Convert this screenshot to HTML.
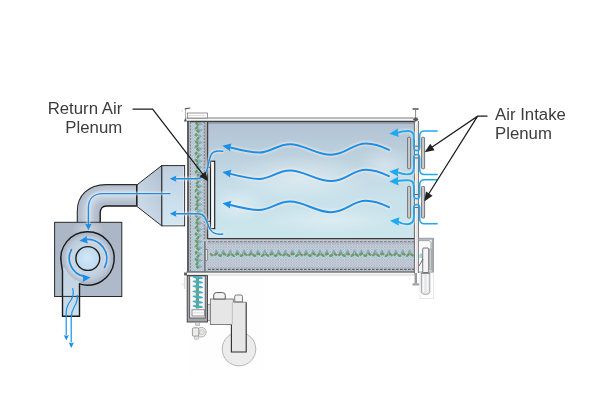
<!DOCTYPE html>
<html>
<head>
<meta charset="utf-8">
<title>Air Flow Diagram</title>
<style>
html,body{margin:0;padding:0;background:#fff;}
body{width:600px;height:420px;overflow:hidden;position:relative;font-family:"Liberation Sans",Arial,sans-serif;}
svg{position:absolute;left:0;top:0;display:block;}
.lbl{position:absolute;font-size:15.8px;line-height:19.3px;color:#3c3c3c;white-space:nowrap;transform:scaleX(1.062);will-change:transform;}
#l1{right:477.6px;top:99.3px;text-align:right;transform-origin:100% 0;}
#l2{left:495.4px;top:105.0px;text-align:left;transform-origin:0 0;}
</style>
</head>
<body>
<svg width="600" height="420" viewBox="0 0 600 420">
<defs>
  <linearGradient id="gCh" x1="0" y1="0" x2="0" y2="1">
    <stop offset="0" stop-color="#a9b8cb"/>
    <stop offset="0.03" stop-color="#b3c3d3"/>
    <stop offset="0.3" stop-color="#bcd1de"/>
    <stop offset="0.6" stop-color="#c7e0e9"/>
    <stop offset="1" stop-color="#cce6ee"/>
  </linearGradient>
  <radialGradient id="gCloud">
    <stop offset="0" stop-color="#ffffff" stop-opacity="0.75"/>
    <stop offset="1" stop-color="#ffffff" stop-opacity="0"/>
  </radialGradient>
  <linearGradient id="gBox" x1="0" y1="0" x2="0" y2="1">
    <stop offset="0" stop-color="#bfcfe0"/>
    <stop offset="0.5" stop-color="#c9dcea"/>
    <stop offset="1" stop-color="#d3e7f2"/>
  </linearGradient>
  <linearGradient id="gCone" x1="1" y1="0" x2="0.3" y2="1">
    <stop offset="0" stop-color="#b0bdce"/>
    <stop offset="0.5" stop-color="#c0cfde"/>
    <stop offset="1" stop-color="#d0dfea"/>
  </linearGradient>
  <linearGradient id="gPipe" x1="0" y1="0" x2="1" y2="1">
    <stop offset="0" stop-color="#b7c2d1"/>
    <stop offset="1" stop-color="#a9b4c5"/>
  </linearGradient>
  <linearGradient id="gBlow" x1="0" y1="0" x2="0" y2="1">
    <stop offset="0" stop-color="#aab5c6"/>
    <stop offset="1" stop-color="#aebaca"/>
  </linearGradient>
  <linearGradient id="gOut" x1="0" y1="0" x2="0" y2="1">
    <stop offset="0" stop-color="#c3d1e0"/>
    <stop offset="1" stop-color="#cddeeb"/>
  </linearGradient>
  <radialGradient id="gFan" cx="0.5" cy="0.5" r="0.5">
    <stop offset="0" stop-color="#cfe3f2"/>
    <stop offset="0.6" stop-color="#c6d4e2"/>
    <stop offset="0.88" stop-color="#bcc8d7"/>
    <stop offset="1" stop-color="#adb9ca"/>
  </radialGradient>
  <radialGradient id="gHub" cx="0.5" cy="0.5" r="0.5">
    <stop offset="0" stop-color="#d3e9f8"/>
    <stop offset="1" stop-color="#bdd8ee"/>
  </radialGradient>
  <pattern id="mesh" width="2.6" height="2.6" patternUnits="userSpaceOnUse">
    <rect width="2.6" height="2.6" fill="#cdd5df"/>
    <path d="M0 0L2.6 2.6M2.6 0L0 2.6" stroke="#aab4c2" stroke-width="0.7"/>
  </pattern>
  <filter id="glow" x="-10%" y="-60%" width="120%" height="220%">
    <feGaussianBlur stdDeviation="1"/>
  </filter>
  <filter id="fz" x="-5%" y="-5%" width="110%" height="110%">
    <feGaussianBlur stdDeviation="0.55"/>
  </filter>
  <filter id="soft2" x="-30%" y="-30%" width="160%" height="160%">
    <feGaussianBlur stdDeviation="2.6"/>
  </filter>
  <filter id="soft" x="-20%" y="-20%" width="140%" height="140%">
    <feGaussianBlur stdDeviation="1.5"/>
  </filter>
</defs>
<rect x="207" y="121" width="208" height="119.5" fill="url(#gCh)"/>
<ellipse cx="300" cy="178" rx="75" ry="24" fill="url(#gCloud)" opacity="0.55"/>
<ellipse cx="238" cy="205" rx="28" ry="18" fill="url(#gCloud)" opacity="0.5"/>
<ellipse cx="385" cy="165" rx="28" ry="20" fill="url(#gCloud)" opacity="0.45"/>
<ellipse cx="330" cy="220" rx="70" ry="14" fill="url(#gCloud)" opacity="0.45"/>
<rect x="188" y="121" width="19.5" height="151" fill="url(#mesh)"/>
<rect x="207" y="241" width="208" height="30.5" fill="url(#mesh)"/>
<g filter="url(#fz)" fill="none" stroke-linejoin="round">
<path d="M196.8 125.5L193.4 127.1L196.8 128.7M196.8 131.7L193.4 133.3L196.8 134.8M196.8 137.9L193.4 139.5L196.8 141.0M196.8 144.1L193.4 145.7L196.8 147.2M196.8 150.3L193.4 151.9L196.8 153.4M196.8 156.5L193.4 158.1L196.8 159.6M196.8 162.7L193.4 164.3L196.8 165.8M196.8 168.9L193.4 170.5L196.8 172.0M196.8 175.1L193.4 176.7L196.8 178.2M196.8 181.3L193.4 182.9L196.8 184.4M196.8 187.5L193.4 189.1L196.8 190.6M196.8 193.7L193.4 195.3L196.8 196.8M196.8 199.9L193.4 201.5L196.8 203.0M196.8 206.1L193.4 207.7L196.8 209.2M196.8 212.3L193.4 213.9L196.8 215.4M196.8 218.5L193.4 220.1L196.8 221.6M196.8 224.7L193.4 226.3L196.8 227.8M196.8 230.9L193.4 232.5L196.8 234.0M196.8 237.1L193.4 238.7L196.8 240.2M196.8 243.3L193.4 244.9L196.8 246.4M196.8 249.5L193.4 251.1L196.8 252.6M196.8 255.7L193.4 257.3L196.8 258.8M196.8 261.9L193.4 263.5L196.8 265.0M196.8 268.1L193.4 269.7L196.8 271.2" stroke="#a5d8e0" stroke-width="1.8" opacity="0.8"/>
<path d="M197.4 122.5L201.6 124.0L197.4 125.5M197.4 128.6L201.6 130.2L197.4 131.8M197.4 134.8L201.6 136.4L197.4 137.9M197.4 141.0L201.6 142.6L197.4 144.1M197.4 147.2L201.6 148.8L197.4 150.3M197.4 153.4L201.6 155.0L197.4 156.5M197.4 159.6L201.6 161.2L197.4 162.7M197.4 165.8L201.6 167.4L197.4 168.9M197.4 172.0L201.6 173.6L197.4 175.1M197.4 178.2L201.6 179.8L197.4 181.3M197.4 184.4L201.6 186.0L197.4 187.5M197.4 190.6L201.6 192.2L197.4 193.7M197.4 196.8L201.6 198.4L197.4 199.9M197.4 203.0L201.6 204.6L197.4 206.1M197.4 209.2L201.6 210.8L197.4 212.3M197.4 215.4L201.6 217.0L197.4 218.5M197.4 221.6L201.6 223.2L197.4 224.7M197.4 227.8L201.6 229.4L197.4 230.9M197.4 234.0L201.6 235.6L197.4 237.1M197.4 240.2L201.6 241.8L197.4 243.3M197.4 246.4L201.6 248.0L197.4 249.5M197.4 252.6L201.6 254.2L197.4 255.7M197.4 258.8L201.6 260.4L197.4 261.9M197.4 265.0L201.6 266.6L197.4 268.1" stroke="#62b1c2" stroke-width="1.5" opacity="0.8"/>
<path d="M195.8 122.5L198.4 125.6L195.8 128.7L198.4 131.8L195.8 134.9L198.4 138.0L195.8 141.1L198.4 144.2L195.8 147.3L198.4 150.4L195.8 153.5L198.4 156.6L195.8 159.7L198.4 162.8L195.8 165.9L198.4 169.0L195.8 172.1L198.4 175.2L195.8 178.3L198.4 181.4L195.8 184.5L198.4 187.6L195.8 190.7L198.4 193.8L195.8 196.9L198.4 200.0L195.8 203.1L198.4 206.2L195.8 209.3L198.4 212.4L195.8 215.5L198.4 218.6L195.8 221.7L198.4 224.8L195.8 227.9L198.4 231.0L195.8 234.1L198.4 237.2L195.8 240.3L198.4 243.4L195.8 246.5L198.4 249.6L195.8 252.7L198.4 255.8L195.8 258.9L198.4 262.0L195.8 265.1L198.4 268.2" stroke="#6f8f5a" stroke-width="2.3" stroke-dasharray="3.6 1.2" opacity="0.9"/>
<path d="M211.3 255.2L213.0 258.8L214.7 255.2M218.2 255.2L219.9 258.8L221.6 255.2M225.1 255.2L226.8 258.8L228.5 255.2M232.0 255.2L233.7 258.8L235.4 255.2M238.9 255.2L240.6 258.8L242.3 255.2M245.8 255.2L247.5 258.8L249.2 255.2M252.7 255.2L254.4 258.8L256.1 255.2M259.6 255.2L261.3 258.8L263.0 255.2M266.5 255.2L268.2 258.8L269.9 255.2M273.4 255.2L275.1 258.8L276.8 255.2M280.3 255.2L282.0 258.8L283.7 255.2M287.2 255.2L288.9 258.8L290.6 255.2M294.1 255.2L295.8 258.8L297.5 255.2M301.0 255.2L302.7 258.8L304.4 255.2M307.9 255.2L309.6 258.8L311.3 255.2M314.8 255.2L316.5 258.8L318.2 255.2M321.7 255.2L323.4 258.8L325.1 255.2M328.6 255.2L330.3 258.8L332.0 255.2M335.5 255.2L337.2 258.8L338.9 255.2M342.4 255.2L344.1 258.8L345.8 255.2M349.3 255.2L351.0 258.8L352.7 255.2M356.2 255.2L357.9 258.8L359.6 255.2M363.1 255.2L364.8 258.8L366.5 255.2M370.0 255.2L371.7 258.8L373.4 255.2M376.9 255.2L378.6 258.8L380.3 255.2M383.8 255.2L385.5 258.8L387.2 255.2M390.7 255.2L392.4 258.8L394.1 255.2M397.6 255.2L399.3 258.8L401.0 255.2M404.5 255.2L406.2 258.8L407.9 255.2M411.4 255.2L413.1 258.8L414.8 255.2" stroke="#a8dae2" stroke-width="1.8" opacity="0.8"/>
<path d="M214.7 254.6L216.4 250.4L218.2 254.6M221.6 254.6L223.3 250.4L225.1 254.6M228.5 254.6L230.2 250.4L232.0 254.6M235.4 254.6L237.2 250.4L238.9 254.6M242.3 254.6L244.1 250.4L245.8 254.6M249.2 254.6L251.0 250.4L252.7 254.6M256.1 254.6L257.9 250.4L259.6 254.6M263.0 254.6L264.8 250.4L266.5 254.6M269.9 254.6L271.6 250.4L273.4 254.6M276.8 254.6L278.5 250.4L280.3 254.6M283.7 254.6L285.4 250.4L287.2 254.6M290.6 254.6L292.3 250.4L294.1 254.6M297.5 254.6L299.2 250.4L301.0 254.6M304.4 254.6L306.1 250.4L307.9 254.6M311.3 254.6L313.0 250.4L314.8 254.6M318.2 254.6L319.9 250.4L321.7 254.6M325.1 254.6L326.8 250.4L328.6 254.6M332.0 254.6L333.7 250.4L335.5 254.6M338.9 254.6L340.6 250.4L342.4 254.6M345.8 254.6L347.5 250.4L349.3 254.6M352.7 254.6L354.4 250.4L356.2 254.6M359.6 254.6L361.3 250.4L363.1 254.6M366.5 254.6L368.2 250.4L370.0 254.6M373.4 254.6L375.1 250.4L376.9 254.6M380.3 254.6L382.0 250.4L383.8 254.6M387.2 254.6L388.9 250.4L390.7 254.6M394.1 254.6L395.8 250.4L397.6 254.6M401.0 254.6L402.7 250.4L404.5 254.6M407.9 254.6L409.6 250.4L411.4 254.6" stroke="#62aebe" stroke-width="1.5" opacity="0.8"/>
<path d="M210.0 253.6L213.4 256.0L216.9 253.6L220.3 256.0L223.8 253.6L227.2 256.0L230.7 253.6L234.1 256.0L237.6 253.6L241.0 256.0L244.5 253.6L247.9 256.0L251.4 253.6L254.8 256.0L258.3 253.6L261.7 256.0L265.2 253.6L268.6 256.0L272.1 253.6L275.5 256.0L279.0 253.6L282.4 256.0L285.9 253.6L289.3 256.0L292.8 253.6L296.2 256.0L299.7 253.6L303.1 256.0L306.6 253.6L310.0 256.0L313.5 253.6L316.9 256.0L320.4 253.6L323.8 256.0L327.3 253.6L330.7 256.0L334.2 253.6L337.6 256.0L341.1 253.6L344.5 256.0L348.0 253.6L351.4 256.0L354.9 253.6L358.3 256.0L361.8 253.6L365.2 256.0L368.7 253.6L372.1 256.0L375.6 253.6L379.0 256.0L382.5 253.6L385.9 256.0L389.4 253.6L392.8 256.0L396.3 253.6L399.7 256.0L403.2 253.6L406.6 256.0L410.1 253.6L413.5 256.0" stroke="#728f5c" stroke-width="2.2" stroke-dasharray="4 1.2" opacity="0.9"/>
</g>
<rect x="207.6" y="241.4" width="206.8" height="3" fill="#8f98a6" opacity="0.25"/>
<rect x="207.6" y="266.8" width="206.8" height="3.4" fill="#8f98a6" opacity="0.25"/>
<path d="M190.3 122V271M204.3 122V240" stroke="#4a4a4a" stroke-width="0.7" stroke-dasharray="2 1.2" fill="none"/>
<path d="M208 241.6H414M208 269.4H414" stroke="#4a4a4a" stroke-width="0.9" stroke-dasharray="2.6 1.4" fill="none"/>
<rect x="186.5" y="118" width="231.5" height="3.6" fill="#f7f7f8"/>
<path d="M186.5 118H418" stroke="#5a5a5a" stroke-width="0.8"/>
<path d="M187 121.5H418" stroke="#3c3c3c" stroke-width="1.3"/>
<path d="M208 122.9H414" stroke="#8d98a9" stroke-width="1.6"/>
<rect x="187" y="121.5" width="2.1" height="154" fill="#5d6066"/>
<rect x="189.1" y="121.5" width="1" height="150" fill="#b9bec6"/>
<rect x="204.8" y="122" width="2.6" height="117" fill="#a9aeb6"/>
<path d="M207.6 122V239" stroke="#3f3f3f" stroke-width="1.2"/>
<path d="M204.9 241V271.5" stroke="#4a4a4a" stroke-width="1"/>
<rect x="207.4" y="238.6" width="207" height="2.8" fill="#c3c8cf"/>
<path d="M207.2 238.6H414.6" stroke="#3a3a3a" stroke-width="1.1"/>
<rect x="186.5" y="271.8" width="228" height="3.2" fill="#f8f8f9" stroke="#b4b4b4" stroke-width="0.6"/>
<path d="M187 272H414.5" stroke="#3c3c3c" stroke-width="1.2"/>
<rect x="205.4" y="249.5" width="2.2" height="11" fill="#e0e3e8" stroke="#555" stroke-width="0.5"/>
<rect x="414.4" y="121" width="4" height="152" fill="#f6f6f7"/>
<path d="M414.4 121V273M418.4 121V273" stroke="#5a5a5a" stroke-width="0.9"/>
<path d="M416.3 124V270" stroke="#c9a9a0" stroke-width="0.5" opacity="0.6"/>
<path d="M414.8 146.2H418M414.8 158H418M414.8 194.6H418M414.8 207.4H418" stroke="#3a3a3a" stroke-width="0.8"/>
<rect x="187.3" y="113" width="20.2" height="5" fill="#fdfdfd" stroke="#6a6a6a" stroke-width="0.7"/>
<path d="M188 115.4H205" stroke="#c8c8c8" stroke-width="0.6"/>
<path d="M185.5 109V120" stroke="#999" stroke-width="0.8" fill="none"/>
<path d="M184.8 108.9L190.2 108" stroke="#555" stroke-width="1.1" fill="none"/>
<path d="M181.5 110.2L183 111.4" stroke="#aaa" stroke-width="0.6" fill="none"/>
<path d="M183.8 121.6L185.4 118L187 121.6Z" fill="#555"/>
<path d="M412.6 109H418.6" stroke="#333" stroke-width="1.3"/>
<path d="M415.6 109.5V118" stroke="#888" stroke-width="1"/>
<path d="M412.8 119.6L415.6 117.6L418.6 119.6L415.6 121.8Z" fill="#555"/>
<rect x="407.6" y="137.3" width="3" height="31.4" rx="0.8" fill="#c9ccd0" stroke="#5a5a5a" stroke-width="0.8"/>
<rect x="421.6" y="137.3" width="3" height="31.4" rx="0.8" fill="#c9ccd0" stroke="#5a5a5a" stroke-width="0.8"/>
<rect x="407.6" y="186.4" width="3" height="31.6" rx="0.8" fill="#c9ccd0" stroke="#5a5a5a" stroke-width="0.8"/>
<rect x="421.6" y="186.4" width="3" height="31.6" rx="0.8" fill="#c9ccd0" stroke="#5a5a5a" stroke-width="0.8"/>
<path d="M207.8 167.3H210.4M207.8 221.4H210.4" stroke="#2a2a2a" stroke-width="1"/>
<rect x="210.5" y="161.2" width="4.2" height="67.4" fill="#f2f5f8" stroke="#1f1f1f" stroke-width="1.15"/>
<rect x="420" y="272" width="13.4" height="26.6" fill="#fdfdfd" stroke="#d9d9d9" stroke-width="0.6"/>
<rect x="418.6" y="238.2" width="14.8" height="33.8" fill="#fafafa" stroke="#777" stroke-width="0.7"/>
<path d="M418.6 238.9H432.6V272" fill="none" stroke="#a3a8b0" stroke-width="1.7"/>
<path d="M419 240.6H429.5L431 242.5V271" fill="none" stroke="#666" stroke-width="0.6"/>
<ellipse cx="420.8" cy="255.8" rx="1.6" ry="2.6" fill="#7fcbd8" opacity="0.8"/>
<rect x="429" y="249" width="2.2" height="20.5" fill="#c9ccd1" stroke="#888" stroke-width="0.4"/>
<rect x="422.7" y="248" width="6" height="24.5" rx="1" fill="#f4f4f5" stroke="#555" stroke-width="0.8"/>
<path d="M419 266L423 259" stroke="#444" stroke-width="0.8"/>
<path d="M421.4 273.2H429.8V291.5Q429.8 294.4 425.6 294.4Q421.4 294.4 421.4 291.5Z" fill="#e6e7e9" stroke="#8a8a8a" stroke-width="0.7"/>
<path d="M423.6 275V292M427.4 275V292" stroke="#fbfbfb" stroke-width="1.1"/>
<path d="M421.4 273.2H429.8" stroke="#666" stroke-width="0.8"/>
<rect x="414.6" y="273" width="2.4" height="10.5" fill="#9a9a9a"/>
<rect x="412.3" y="283.2" width="7" height="2.4" rx="0.8" fill="#a5a5a5"/>
<rect x="161.7" y="165.6" width="22.9" height="60.2" fill="url(#gBox)" stroke="#2a2a2a" stroke-width="1"/>
<path d="M183.6 167V224.8H163" fill="none" stroke="#e4eef6" stroke-width="0.9" opacity="0.8"/>
<path d="M161.7 165.6L136.8 185V206.3L161.7 225.8Z" fill="url(#gCone)" stroke="#2a2a2a" stroke-width="1" stroke-linejoin="miter"/>
<clipPath id="cpPipe"><path d="M136.8 184.6H106C88 184.6 77.3 196 77.3 211V222.5H100.2V213C100.2 209 102.5 206 106.5 206H136.8Z"/></clipPath>
<path d="M136.8 184.6H106C88 184.6 77.3 196 77.3 211V222.5H100.2V213C100.2 209 102.5 206 106.5 206H136.8Z" fill="#b0bccb" stroke="none"/>
<g clip-path="url(#cpPipe)"><path d="M140 194.5H106C94 194.5 88.2 201 88.2 211V224" fill="none" stroke="#cbd7e3" stroke-width="10" filter="url(#soft2)"/></g>
<path d="M136.8 184.6H106C88 184.6 77.3 196 77.3 211V222.5" fill="none" stroke="#2a2a2a" stroke-width="1.1"/>
<path d="M136.8 206H106.5C102.5 206 100.2 209 100.2 213V222.5" fill="none" stroke="#1a1a1a" stroke-width="1.4"/>
<rect x="54.6" y="222.3" width="67.2" height="74.2" fill="url(#gBlow)" stroke="#2a2a2a" stroke-width="1"/>
<ellipse cx="88" cy="229" rx="17" ry="9" fill="url(#gCloud)" opacity="0.55"/>
<path d="M79.5 283.9A26.7 26.7 0 1 0 61.3 263.4Q61.9 267.5 62.5 271V296H79.5Z" fill="#adb9ca"/>
<rect x="62.5" y="268" width="17" height="48.2" fill="url(#gOut)"/>
<circle cx="87.6" cy="258.4" r="24.4" fill="url(#gFan)"/>
<path d="M79.5 283.9A26.7 26.7 0 1 0 61.3 263.4Q61.9 267.5 62.5 271V316.2H79.5Z" fill="none" stroke="#1a1a1a" stroke-width="1.4" stroke-linejoin="miter"/>
<path d="M62.5 296.4H79.5" stroke="#2a2a2a" stroke-width="1"/>
<circle cx="87.8" cy="258.5" r="11.9" fill="url(#gHub)" stroke="#1a1a1a" stroke-width="1.4"/>
<path d="M136.7 184.6V206" stroke="#1f1f1f" stroke-width="1.4"/>
<rect x="186.7" y="276" width="77.5" height="97.7" fill="#fefefe"/>
<circle cx="239" cy="349.1" r="16.8" fill="#ececec" stroke="#999" stroke-width="0.7"/>
<rect x="207.2" y="304.3" width="3.2" height="16.2" fill="#dcdcdc" stroke="#777" stroke-width="0.6"/>
<rect x="210.3" y="299" width="23" height="25.6" fill="#e6e6e6" stroke="#666" stroke-width="0.8"/>
<path d="M231.4 324.6V352H246.2V302.2H231.4Z" fill="#e6e6e6"/>
<path d="M231.4 324.6V352H246.2V302.2" fill="none" stroke="#2e2e2e" stroke-width="1.1"/>
<path d="M233.5 302.2H246.2" fill="none" stroke="#777" stroke-width="0.8"/>
<path d="M232.4 302.4V324.4" fill="none" stroke="#b0b0b0" stroke-width="0.7"/>
<path d="M213.7 299V295.2Q213.7 292.6 216.5 292.6H222.5Q225.3 292.6 225.3 295.2V299Z" fill="#f3f3f3" stroke="#4a4a4a" stroke-width="0.9"/>
<path d="M234.7 301.8V296.6Q234.7 295 236.3 295H240.9Q242.5 295 242.5 296.6V301.8Z" fill="#f3f3f3" stroke="#5a5a5a" stroke-width="0.8"/>
<rect x="187.2" y="275.6" width="20.3" height="46.4" fill="#a3a7ad" stroke="#3a3a3a" stroke-width="0.9"/>
<rect x="189.7" y="276" width="15.5" height="42" fill="#f6f6f7" stroke="#444" stroke-width="0.8"/>
<g filter="url(#fz)">
<path d="M197.4 276.5V308.5" stroke="#7d9f68" stroke-width="3.2" fill="none"/>
<ellipse cx="197.8" cy="277.5" rx="5.3" ry="1.25" transform="rotate(8 197.8 277.5)" fill="#3fb0cc"/>
<ellipse cx="197.8" cy="281.9" rx="5.3" ry="1.25" transform="rotate(8 197.8 281.9)" fill="#3fb0cc"/>
<ellipse cx="197.8" cy="286.8" rx="5.3" ry="1.25" transform="rotate(8 197.8 286.8)" fill="#3fb0cc"/>
<ellipse cx="197.8" cy="291.9" rx="5.3" ry="1.25" transform="rotate(8 197.8 291.9)" fill="#3fb0cc"/>
<ellipse cx="197.8" cy="297" rx="5.3" ry="1.25" transform="rotate(8 197.8 297)" fill="#3fb0cc"/>
<ellipse cx="197.8" cy="302" rx="5.3" ry="1.25" transform="rotate(8 197.8 302)" fill="#3fb0cc"/>
<ellipse cx="197.8" cy="306.6" rx="5.3" ry="1.25" transform="rotate(8 197.8 306.6)" fill="#3fb0cc"/>
</g>
<rect x="192" y="309.8" width="12.6" height="6.2" fill="#fbfbfb" stroke="#666" stroke-width="0.7"/>
<path d="M192.5 312.9H204" stroke="#c4c4c4" stroke-width="0.6"/>
<path d="M195.6 322.4h4v3h-4z" fill="#ddd" stroke="#888" stroke-width="0.5"/>
<circle cx="201.4" cy="332.2" r="4.8" fill="#efefef" stroke="#909090" stroke-width="0.7"/>
<circle cx="201.8" cy="332.2" r="2.6" fill="#e2e2e2" stroke="#b5b5b5" stroke-width="0.5"/>
<rect x="192.4" y="327.8" width="6.4" height="8.4" rx="1.2" fill="#ececec" stroke="#777" stroke-width="0.7"/>
<rect x="194.4" y="336.2" width="4.4" height="3" rx="1" fill="#e6e6e6" stroke="#888" stroke-width="0.5"/>
<path d="M184.8 277V289M182 283.5L183.4 285" stroke="#aaa" stroke-width="0.6" fill="none"/>
<rect x="184" y="272.5" width="3" height="3" fill="#666"/>
<g fill="none" stroke="#fbeee8" stroke-linecap="round" opacity="0.8" filter="url(#glow)">
<path d="M389 149.8 C381 146 374 143.4 366 143.4 C352 143.4 346 154.8 331 154.8 C316 154.8 304 144.2 290 144.2 C277 144.2 271 152.6 259 152.6 C249 152.6 238 149.5 229 147.2" stroke-width="3.8"/>
<path d="M389 176.1 C381 172.3 374 169.7 366 169.7 C352 169.7 346 181.1 331 181.1 C316 181.1 304 170.5 290 170.5 C277 170.5 271 178.9 259 178.9 C249 178.9 238 175.8 229 173.5" stroke-width="3.8"/>
<path d="M389 207.2 C381 203.4 374 200.8 366 200.8 C352 200.8 346 212.2 331 212.2 C316 212.2 304 201.6 290 201.6 C277 201.6 271 210.0 259 210.0 C249 210.0 238 206.9 229 204.6" stroke-width="3.8"/>
<path d="M222.7 151.3C217 150.4 213.6 151 211.6 154C208.6 158.5 208.6 166 206.2 172C204.2 177 200.5 178.7 196 178.7H176" stroke-width="3"/>
<path d="M222.7 234C216.5 235 212 233 209.6 228.5C206.5 222.5 206 213.7 198.5 213.7H176" stroke-width="3"/>
<path d="M397 133C401 131.4 404 131 408 131C411.6 131 413.8 133 413.8 137" stroke-width="3.6"/>
<path d="M413.8 168C413.8 172 411.5 174.4 407 174.4C403 174.4 400 173.4 397 172.2" stroke-width="3.6"/>
<path d="M397 181C400 180.4 404 180.2 408 180.2C411.6 180.2 413.8 182.4 413.8 186" stroke-width="3.6"/>
<path d="M413.8 217C413.8 221.6 411.5 224.2 407 224.2C403 224.2 400 223 397 221.4" stroke-width="3.6"/>
</g>
<path d="M170 193.6H103C93.5 193.6 88.4 199 88.4 208V226" fill="none" stroke="#fbeee8" stroke-width="3" opacity="0.7" filter="url(#glow)"/>
<g fill="none" stroke="#1b8fe6" stroke-linecap="round">
<path d="M389 149.8 C381 146 374 143.4 366 143.4 C352 143.4 346 154.8 331 154.8 C316 154.8 304 144.2 290 144.2 C277 144.2 271 152.6 259 152.6 C249 152.6 238 149.5 229 147.2" stroke-width="2"/>
<path d="M389 176.1 C381 172.3 374 169.7 366 169.7 C352 169.7 346 181.1 331 181.1 C316 181.1 304 170.5 290 170.5 C277 170.5 271 178.9 259 178.9 C249 178.9 238 175.8 229 173.5" stroke-width="2"/>
<path d="M389 207.2 C381 203.4 374 200.8 366 200.8 C352 200.8 346 212.2 331 212.2 C316 212.2 304 201.6 290 201.6 C277 201.6 271 210.0 259 210.0 C249 210.0 238 206.9 229 204.6" stroke-width="2"/>
<path d="M222.7 151.3C217 150.4 213.6 151 211.6 154C208.6 158.5 208.6 166 206.2 172C204.2 177 200.5 178.7 196 178.7H176" stroke-width="1.5"/>
<path d="M222.7 234C216.5 235 212 233 209.6 228.5C206.5 222.5 206 213.7 198.5 213.7H176" stroke-width="1.5"/>
<path d="M170 193.6H103C93.5 193.6 88.4 199 88.4 208V226" stroke-width="1.4"/>
</g>
<path transform="translate(222.4 145.8) rotate(190)" d="M0 0L-8.6 -3.9L-7.8 0L-8.6 3.9Z" fill="#1b8fe6"/>
<path transform="translate(222.4 172.1) rotate(190)" d="M0 0L-8.6 -3.9L-7.8 0L-8.6 3.9Z" fill="#1b8fe6"/>
<path transform="translate(222.4 203.2) rotate(190)" d="M0 0L-8.6 -3.9L-7.8 0L-8.6 3.9Z" fill="#1b8fe6"/>
<path transform="translate(169.8 178.7) rotate(180)" d="M0 0L-6.6 -3.1L-5.8 0L-6.6 3.1Z" fill="#1b8fe6"/>
<path transform="translate(169.8 213.7) rotate(180)" d="M0 0L-6.6 -3.1L-5.8 0L-6.6 3.1Z" fill="#1b8fe6"/>
<path transform="translate(88.4 230.2) rotate(90)" d="M0 0L-6.6 -3.4L-5.8 0L-6.6 3.4Z" fill="#1b8fe6"/>
<path transform="translate(389.3 133.8) rotate(174)" d="M0 0L-9.2 -4.3L-8.4 0L-9.2 4.3Z" fill="#1fa9f2"/>
<path transform="translate(389.3 171.6) rotate(184)" d="M0 0L-9.2 -4.3L-8.4 0L-9.2 4.3Z" fill="#1fa9f2"/>
<path transform="translate(389.3 181.4) rotate(178)" d="M0 0L-9.2 -4.3L-8.4 0L-9.2 4.3Z" fill="#1fa9f2"/>
<path transform="translate(390 220.8) rotate(184)" d="M0 0L-9.2 -4.3L-8.4 0L-9.2 4.3Z" fill="#1fa9f2"/>
<g fill="none" stroke="#1fa9f2" stroke-width="1.5" stroke-linecap="round">
<path d="M437.2 131H424.5C421.3 131 419.7 133 419.7 136V147.4C419.7 149.6 418.5 150.6 416.8 150.6C415 150.6 413.8 149.6 413.8 147.4V137"/>
<path d="M437.2 174.6H424.5C421.3 174.6 419.7 172.6 419.7 169.6V157.8C419.7 155.6 418.5 154.6 416.8 154.6C415 154.6 413.8 155.6 413.8 157.8V168"/>
<path d="M437.2 179.8H424.5C421.3 179.8 419.7 181.8 419.7 184.8V195.6C419.7 197.8 418.5 198.8 416.8 198.8C415 198.8 413.8 197.8 413.8 195.6V186"/>
<path d="M437.2 223.8H424.5C421.3 223.8 419.7 221.8 419.7 218.8V207.6C419.7 205.4 418.5 204.4 416.8 204.4C415 204.4 413.8 205.4 413.8 207.6V217"/>
<path d="M397 133C401 131.4 404 131 408 131C411.6 131 413.8 133 413.8 137" stroke-width="1.9"/>
<path d="M413.8 168C413.8 172 411.5 174.4 407 174.4C403 174.4 400 173.4 397 172.2" stroke-width="1.9"/>
<path d="M397 181C400 180.4 404 180.2 408 180.2C411.6 180.2 413.8 182.4 413.8 186" stroke-width="1.9"/>
<path d="M413.8 217C413.8 221.6 411.5 224.2 407 224.2C403 224.2 400 223 397 221.4" stroke-width="1.9"/>
</g>
<g fill="none" stroke="#fbeee8" stroke-width="3.2" opacity="0.7" filter="url(#glow)"><path d="M104.6 267.4A19 19 0 0 0 84.5 239.8"/><path d="M71.4 249.6A18.6 18.6 0 0 0 84 276.4"/></g>
<g fill="none" stroke="#1b8fe6" stroke-width="1.8" stroke-linecap="round">
<path d="M104.6 267.4A19 19 0 0 0 84.5 239.8"/>
<path d="M71.4 249.6A18.6 18.6 0 0 0 84 276.4"/>
<path d="M72.8 288.6C73.8 293 73.2 296.5 71 300C68 304 66.4 307 66.2 312V335" stroke-width="1.2"/>
<path d="M77.2 295.4C77.8 300 76.6 303 74.4 306.5C72 310.5 71.2 313 71.2 318V342" stroke-width="1.2"/>
</g>
<path transform="translate(79.4 240.8) rotate(172)" d="M0 0L-8.2 -3.8L-7.4 0L-8.2 3.8Z" fill="#1b8fe6"/>
<path transform="translate(90.6 277.4) rotate(-5)" d="M0 0L-8.2 -3.8L-7.4 0L-8.2 3.8Z" fill="#1b8fe6"/>
<path transform="translate(66.3 340.6) rotate(90)" d="M0 0L-5.5 -2.6L-4.7 0L-5.5 2.6Z" fill="#1b8fe6"/>
<path transform="translate(71.3 348) rotate(90)" d="M0 0L-5.5 -2.6L-4.7 0L-5.5 2.6Z" fill="#1b8fe6"/>
<g fill="none" stroke="#1c1c1c" stroke-width="1.25">
<path d="M132.5 109.2H152.6L204.5 176.4"/>
<path d="M487.5 116.2H477.6L430 148.6M477.6 116.2L428 195"/>
</g>
<path transform="translate(208.2 181.4) rotate(52.5)" d="M0 0L-9.5 -3.9L-9.5 3.9Z" fill="#222"/>
<path transform="translate(424.6 152.3) rotate(145.8)" d="M0 0L-9.5 -3.9L-9.5 3.9Z" fill="#222"/>
<path transform="translate(424.2 201.6) rotate(122.2)" d="M0 0L-9.5 -3.9L-9.5 3.9Z" fill="#222"/>
</svg>
<div class="lbl" id="l1">Return Air<br>Plenum</div>
<div class="lbl" id="l2">Air Intake<br>Plenum</div>
</body>
</html>
